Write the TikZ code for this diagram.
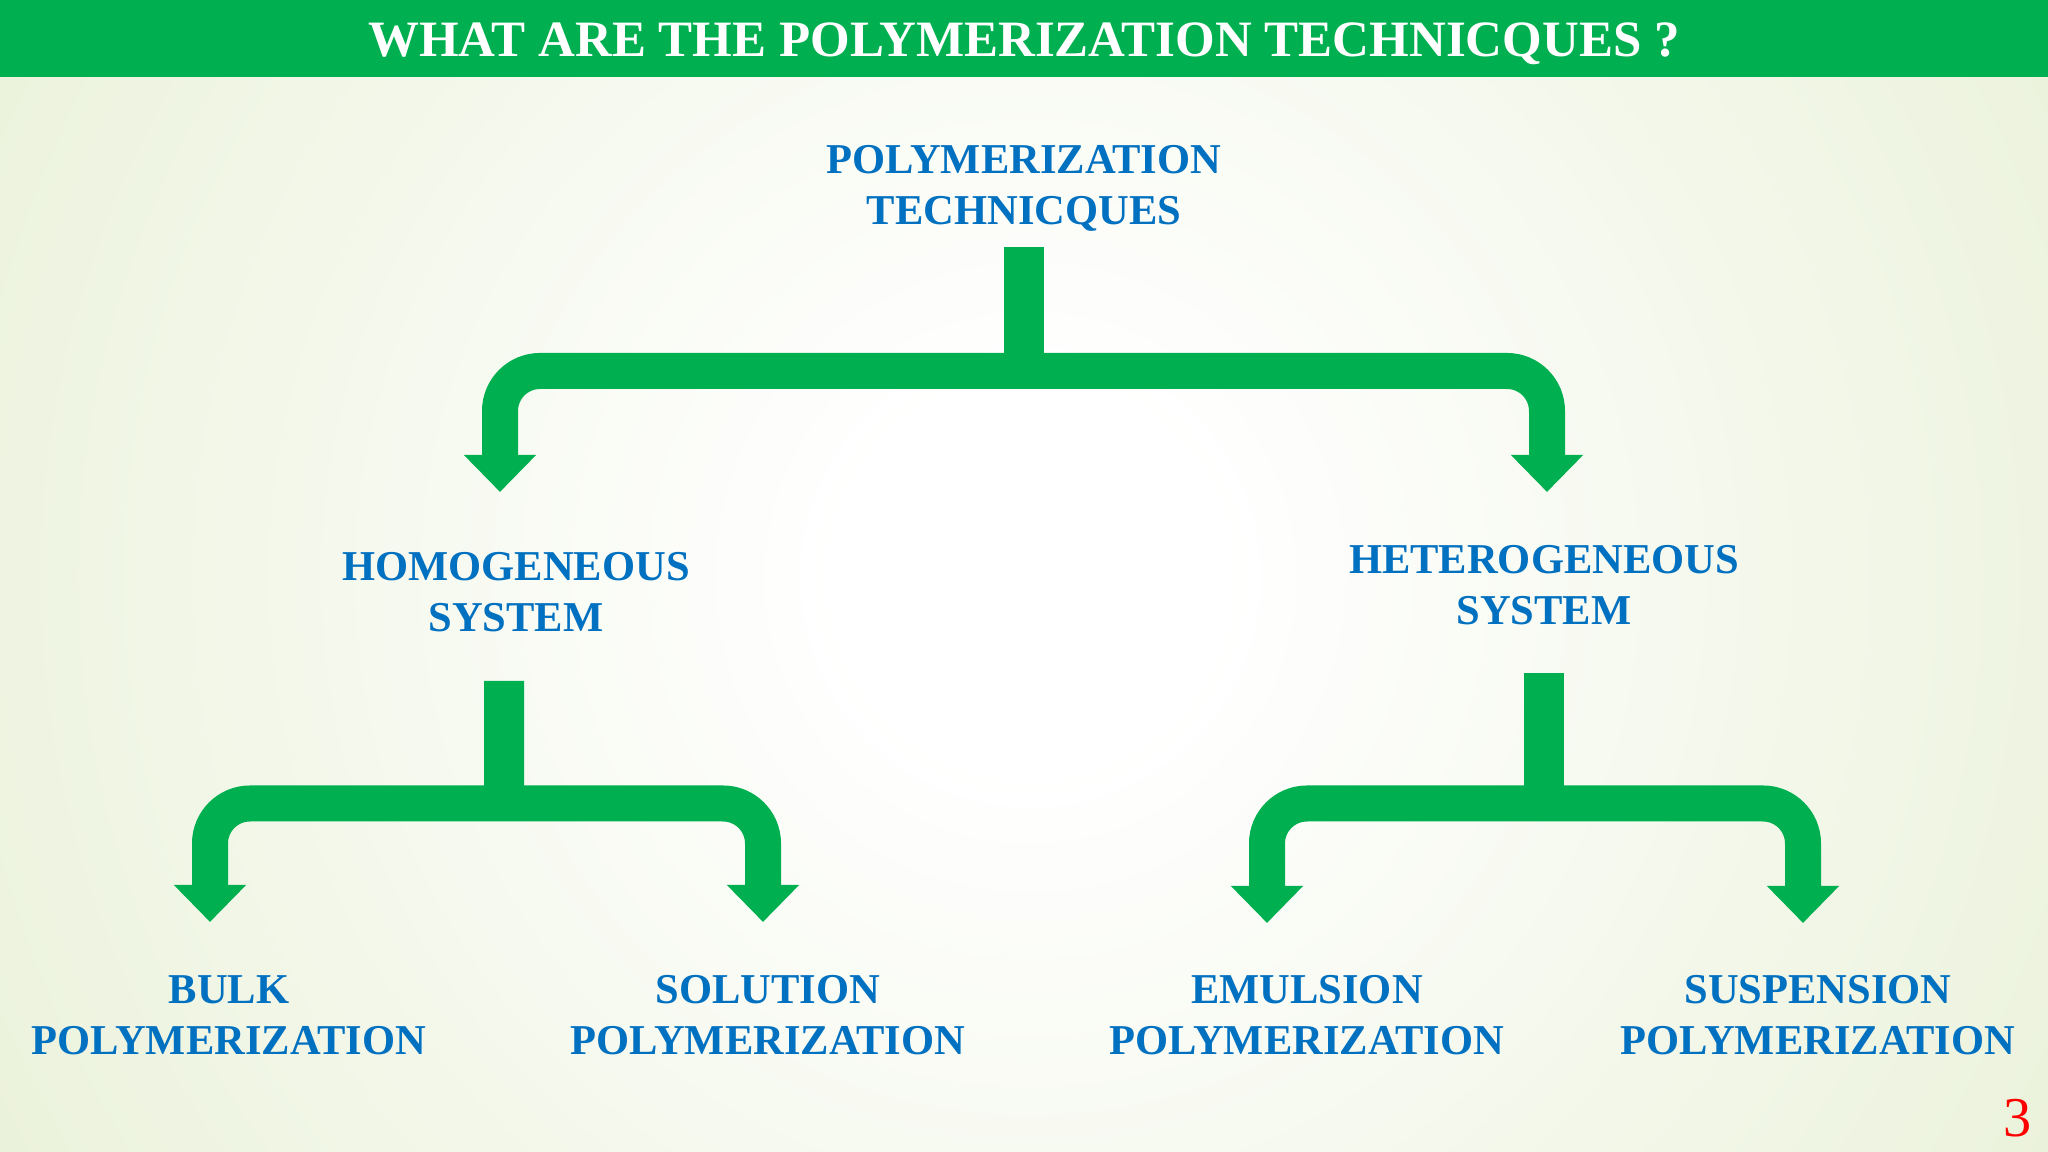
\documentclass[tikz,border=0pt]{standalone}
\usepackage{fontspec}
\setmainfont{Liberation Serif}
\usetikzlibrary{arrows.meta}
\usepackage{xcolor}
\definecolor{slidegreen}{RGB}{0,176,80}
\definecolor{labelblue}{RGB}{0,112,192}
\definecolor{bgedge}{RGB}{218,231,189}
\pgfdeclareradialshading{glow}{\pgfpoint{0bp}{0bp}}{color(0bp)=(white); color(4bp)=(white); color(42bp)=(bgedge); color(50bp)=(bgedge)}

\begin{document}
\begin{tikzpicture}[>={Triangle[width=7mm,length=3.7mm]},
    lbl/.style={text=labelblue,font=\fontsize{12.1}{14.5}\selectfont\bfseries,align=center,inner sep=0pt,anchor=north},
    trunk/.style={slidegreen,line width=4mm},
    fork/.style={slidegreen,line width=3.6mm,rounded corners=4mm,<->}]
  \useasboundingbox (0,0) rectangle (20.48,11.52);
  % background and title bar
  \begin{scope}
    \clip (0,0) rectangle (20.48,10.75);
    \shade[shading=glow] (10.3,5.75) circle (12cm);
  \end{scope}
  \fill[slidegreen] (0,10.75) rectangle (20.48,11.52);
  \node[anchor=base,text=white,font=\fontsize{14.5}{17}\selectfont\bfseries] (title) at (10.24,10.95) {WHAT ARE THE POLYMERIZATION TECHNICQUES ?};
  \node[anchor=base,text=red,font=\fontsize{16}{19}\selectfont] (page) at (20.18,0.15) {3};

  % labels
  \node[lbl] (poly) at (10.24,10.07) {POLYMERIZATION\\TECHNICQUES};
  \node[lbl] (homo) at (5.16,6.00) {HOMOGENEOUS\\SYSTEM};
  \node[lbl] (hetero) at (15.44,6.07) {HETEROGENEOUS\\SYSTEM};
  \node[lbl] (bulk) at (2.29,1.77) {BULK\\POLYMERIZATION};
  \node[lbl] (soln) at (7.68,1.77) {SOLUTION\\POLYMERIZATION};
  \node[lbl] (emul) at (13.07,1.77) {EMULSION\\POLYMERIZATION};
  \node[lbl] (susp) at (18.18,1.77) {SUSPENSION\\POLYMERIZATION};

  % connectors
  \coordinate (j1) at (10.24,7.81);
  \coordinate (j2) at (5.04,3.485);
  \coordinate (j3) at (15.44,3.485);
  \draw[trunk] ([yshift=-1.5mm]poly.south) -- (j1);
  \draw[fork] ([xshift=-1.6mm,yshift=6mm]homo.north) |- (j1) -| ([xshift=0.3mm,yshift=5.3mm]hetero.north);
  \draw[trunk] ([xshift=-1.2mm,yshift=-4.8mm]homo.south) -- (j2);
  \draw[fork] ([xshift=-1.9mm,yshift=5.3mm]bulk.north) |- (j2) -| ([xshift=-0.5mm,yshift=5.3mm]soln.north);
  \draw[trunk] ([yshift=-4.7mm]hetero.south) -- (j3);
  \draw[fork] ([xshift=-4mm,yshift=5.2mm]emul.north) |- (j3) -| ([xshift=-1.5mm,yshift=5.2mm]susp.north);
\end{tikzpicture}
\end{document}
